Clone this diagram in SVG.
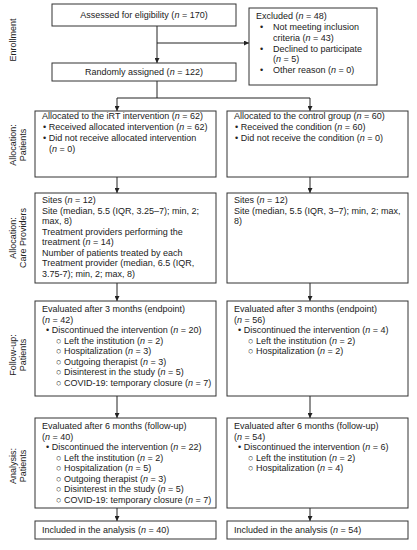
<svg xmlns="http://www.w3.org/2000/svg" width="417" height="550" viewBox="0 0 417 550">
<defs>
<marker id="ah" viewBox="0 0 6 6" refX="6" refY="3" markerWidth="5" markerHeight="5" orient="auto" markerUnits="userSpaceOnUse">
<path d="M0,0 L6,3 L0,6 z" fill="#222"/>
</marker>
<style>
.box{fill:#fff;stroke:#333;stroke-width:1}
.t{font-family:"Liberation Sans",Arial,sans-serif;font-size:9px;fill:#222}
.c{text-anchor:middle}
.ln{stroke:#222;stroke-width:1;fill:none}
.ar{stroke:#222;stroke-width:1;fill:none;marker-end:url(#ah)}
i,.it{font-style:italic}
</style>
</defs>
<rect width="417" height="550" fill="#fff"/>

<g id="labels">
<text class="t c" transform="translate(16,40) rotate(-90)">Enrollment</text>
<text class="t c" transform="translate(16,145) rotate(-90)">Allocation:</text>
<text class="t c" transform="translate(25.5,145) rotate(-90)">Patients</text>
<text class="t c" transform="translate(16,238) rotate(-90)">Allocation:</text>
<text class="t c" transform="translate(25.5,238) rotate(-90)">Care Providers</text>
<text class="t c" transform="translate(16,355) rotate(-90)">Follow-up:</text>
<text class="t c" transform="translate(25.5,355) rotate(-90)">Patients</text>
<text class="t c" transform="translate(16,466) rotate(-90)">Analysis:</text>
<text class="t c" transform="translate(25.5,466) rotate(-90)">Patients</text>
</g>

<g id="connectors">
<line class="ar" x1="157" y1="26" x2="157" y2="63"/>
<line class="ar" x1="157" y1="43" x2="249" y2="43"/>
<polyline class="ln" points="157,81 157,98"/>
<line class="ln" x1="117" y1="98" x2="310" y2="98"/>
<line class="ar" x1="117" y1="98" x2="117" y2="111"/>
<line class="ar" x1="310" y1="98" x2="310" y2="111"/>
<line class="ar" x1="117" y1="177" x2="117" y2="193"/>
<line class="ar" x1="310" y1="177" x2="310" y2="193"/>
<line class="ar" x1="117" y1="283" x2="117" y2="301"/>
<line class="ar" x1="310" y1="283" x2="310" y2="301"/>
<line class="ar" x1="117" y1="396" x2="117" y2="418"/>
<line class="ar" x1="310" y1="396" x2="310" y2="418"/>
<line class="ar" x1="117" y1="508" x2="117" y2="521"/>
<line class="ar" x1="310" y1="508" x2="310" y2="521"/>
</g>

<g id="assessed">
<rect class="box" x="52" y="4" width="184" height="22"/>
<text class="t c" x="144" y="18">Assessed for eligibility (<tspan class="it">n</tspan> = 170)</text>
</g>

<g id="excluded">
<rect class="box" x="249" y="8" width="128" height="77"/>
<text class="t" x="256" y="19">Excluded (<tspan class="it">n</tspan> = 48)</text>
<text class="t" x="260" y="30">•</text>
<text class="t" x="273" y="30">Not meeting inclusion</text>
<text class="t" x="273" y="41">criteria (<tspan class="it">n</tspan> = 43)</text>
<text class="t" x="260" y="52">•</text>
<text class="t" x="273" y="52">Declined to participate</text>
<text class="t" x="273" y="62">(<tspan class="it">n</tspan> = 5)</text>
<text class="t" x="260" y="73">•</text>
<text class="t" x="273" y="73">Other reason (<tspan class="it">n</tspan> = 0)</text>
</g>

<g id="randomized">
<rect class="box" x="52" y="63" width="184" height="18"/>
<text class="t c" x="144" y="75">Randomly assigned (<tspan class="it">n</tspan> = 122)</text>
</g>

<g id="alloc-irt">
<rect class="box" x="35" y="111" width="181" height="66"/>
<text class="t" x="42" y="119">Allocated to the iRT intervention (<tspan class="it">n</tspan> = 62)</text>
<text class="t" x="43" y="130">• Received allocated intervention (<tspan class="it">n</tspan> = 62)</text>
<text class="t" x="43" y="141">• Did not receive allocated intervention</text>
<text class="t" x="49" y="152">(<tspan class="it">n</tspan> = 0)</text>
</g>

<g id="alloc-control">
<rect class="box" x="227" y="111" width="181" height="66"/>
<text class="t" x="234" y="119">Allocated to the control group (<tspan class="it">n</tspan> = 60)</text>
<text class="t" x="235" y="130">• Received the condition (<tspan class="it">n</tspan> = 60)</text>
<text class="t" x="235" y="141">• Did not receive the condition (<tspan class="it">n</tspan> = 0)</text>
</g>

<g id="care-irt">
<rect class="box" x="35" y="193" width="181" height="90"/>
<text class="t" x="42" y="203">Sites (<tspan class="it">n</tspan> = 12)</text>
<text class="t" x="42" y="213.5">Site (median, 5.5 (IQR, 3.25–7); min, 2;</text>
<text class="t" x="42" y="224">max, 8)</text>
<text class="t" x="42" y="234.5">Treatment providers performing the</text>
<text class="t" x="42" y="245">treatment (<tspan class="it">n</tspan> = 14)</text>
<text class="t" x="42" y="255.5">Number of patients treated by each</text>
<text class="t" x="42" y="266">Treatment provider (median, 6.5 (IQR,</text>
<text class="t" x="42" y="276.5">3.75-7); min, 2; max, 8)</text>
</g>

<g id="care-control">
<rect class="box" x="227" y="193" width="181" height="90"/>
<text class="t" x="234" y="203">Sites (<tspan class="it">n</tspan> = 12)</text>
<text class="t" x="234" y="213.5">Site (median, 5.5 (IQR, 3–7); min, 2; max,</text>
<text class="t" x="234" y="224">8)</text>
</g>

<g id="fu3-irt">
<rect class="box" x="35" y="301" width="181" height="95"/>
<text class="t" x="42" y="312">Evaluated after 3 months (endpoint)</text>
<text class="t" x="42" y="322.5">(<tspan class="it">n</tspan> = 42)</text>
<text class="t" x="46" y="333">• Discontinued the intervention (<tspan class="it">n</tspan> = 20)</text>
<text class="t" x="56" y="343.5">○ Left the institution (<tspan class="it">n</tspan> = 2)</text>
<text class="t" x="56" y="354">○ Hospitalization (<tspan class="it">n</tspan> = 3)</text>
<text class="t" x="56" y="364.5">○ Outgoing therapist (<tspan class="it">n</tspan> = 3)</text>
<text class="t" x="56" y="375">○ Disinterest in the study (<tspan class="it">n</tspan> = 5)</text>
<text class="t" x="56" y="385.5">○ COVID-19: temporary closure (<tspan class="it">n</tspan> = 7)</text>
</g>

<g id="fu3-control">
<rect class="box" x="227" y="301" width="181" height="95"/>
<text class="t" x="234" y="312">Evaluated after 3 months (endpoint)</text>
<text class="t" x="234" y="322.5">(<tspan class="it">n</tspan> = 56)</text>
<text class="t" x="238" y="333">• Discontinued the intervention (<tspan class="it">n</tspan> = 4)</text>
<text class="t" x="248" y="343.5">○ Left the institution (<tspan class="it">n</tspan> = 2)</text>
<text class="t" x="248" y="354">○ Hospitalization (<tspan class="it">n</tspan> = 2)</text>
</g>

<g id="fu6-irt">
<rect class="box" x="35" y="418" width="181" height="90"/>
<text class="t" x="42" y="429">Evaluated after 6 months (follow-up)</text>
<text class="t" x="42" y="439.5">(<tspan class="it">n</tspan> = 40)</text>
<text class="t" x="46" y="450">• Discontinued the intervention (<tspan class="it">n</tspan> = 22)</text>
<text class="t" x="56" y="460.5">○ Left the institution (<tspan class="it">n</tspan> = 2)</text>
<text class="t" x="56" y="471">○ Hospitalization (<tspan class="it">n</tspan> = 5)</text>
<text class="t" x="56" y="481.5">○ Outgoing therapist (<tspan class="it">n</tspan> = 3)</text>
<text class="t" x="56" y="492">○ Disinterest in the study (<tspan class="it">n</tspan> = 5)</text>
<text class="t" x="56" y="502.5">○ COVID-19: temporary closure (<tspan class="it">n</tspan> = 7)</text>
</g>

<g id="fu6-control">
<rect class="box" x="227" y="418" width="181" height="90"/>
<text class="t" x="234" y="429">Evaluated after 6 months (follow-up)</text>
<text class="t" x="234" y="439.5">(<tspan class="it">n</tspan> = 54)</text>
<text class="t" x="238" y="450">• Discontinued the intervention (<tspan class="it">n</tspan> = 6)</text>
<text class="t" x="248" y="460.5">○ Left the institution (<tspan class="it">n</tspan> = 2)</text>
<text class="t" x="248" y="471">○ Hospitalization (<tspan class="it">n</tspan> = 4)</text>
</g>

<g id="incl-irt">
<rect class="box" x="35" y="521" width="181" height="18"/>
<text class="t" x="42" y="533">Included in the analysis (<tspan class="it">n</tspan> = 40)</text>
</g>

<g id="incl-control">
<rect class="box" x="227" y="521" width="181" height="18"/>
<text class="t" x="234" y="533">Included in the analysis (<tspan class="it">n</tspan> = 54)</text>
</g>
</svg>
